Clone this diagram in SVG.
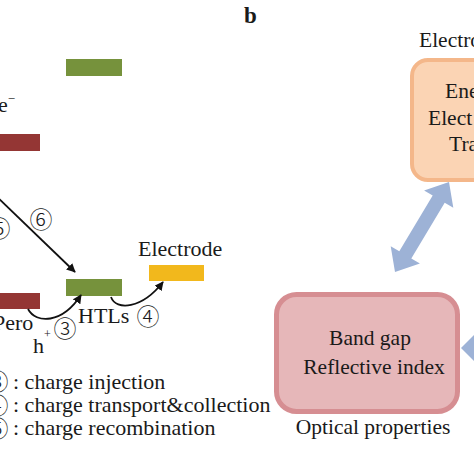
<svg xmlns="http://www.w3.org/2000/svg" width="474" height="474" viewBox="0 0 474 474">
<style>
text{font-family:"Liberation Serif","Times New Roman",serif;fill:#1a1a1a}
.t{font-size:22px}
.r{font-size:21.5px}
.c{font-family:"Noto Sans CJK SC","Liberation Serif",serif;font-size:23px;font-weight:300}
.ln{fill:none;stroke:#111;stroke-width:1.8}
.green{fill:#76923c}
.red{fill:#943634}
.blue{fill:#9db2d6}
</style>
<defs>
<marker id="ah" viewBox="0 0 10 10" refX="9" refY="5" markerWidth="5" markerHeight="5" orient="auto" markerUnits="strokeWidth">
<path d="M0,0 L10,5 L0,10 z" fill="#111"/>
</marker>
</defs>
<rect width="474" height="474" fill="#fff"/>

<g id="level-top-green"><rect class="green" x="66" y="59" width="56" height="17"/></g>
<g id="electron-label"><text class="t" x="-2" y="112">e<tspan font-size="13" dy="-9">−</tspan></text></g>
<g id="level-top-red"><rect class="red" x="0" y="134" width="40" height="17"/></g>
<g id="htl-bar"><rect class="green" x="66" y="279" width="56" height="17"/><text class="t" x="78" y="323">HTLs</text></g>
<g id="electrode-bar"><rect x="149" y="265" width="55" height="16" fill="#f2b81c"/><text class="t" x="138" y="256">Electrode</text></g>
<g id="pero-bar"><rect class="red" x="0" y="293" width="40" height="16"/><text class="t" x="-7" y="330">Pero</text></g>
<g id="hole-label"><text class="t" x="33" y="353">h<tspan font-size="12" dy="-15">+</tspan></text></g>

<g id="connectors">
<path class="ln" d="M-6,194 L75,272" marker-end="url(#ah)"/>
<path class="ln" d="M28,309 C36,324 62,324 81,295" marker-end="url(#ah)"/>
<path class="ln" d="M111,297 C116,311 142,309 163,282" marker-end="url(#ah)"/>
<polygon class="blue" points="449,182 453.3,207.8 444.7,202.7 411.3,258.5 419.9,263.6 395,272 390.7,246.2 399.3,251.3 432.7,195.5 424.1,190.4"/>
<polygon class="blue" points="461,348 476,333 476,363"/>
</g>

<g id="step-labels">
<text class="c" x="41" y="228" text-anchor="middle">⑥</text>
<text class="c" x="-1" y="237" text-anchor="middle">⑤</text>
<text class="c" x="65" y="337" text-anchor="middle">③</text>
<text class="c" x="148" y="325" text-anchor="middle">④</text>
</g>

<g id="legend">
<text class="c" x="-3" y="390" text-anchor="middle">③</text>
<text class="t" x="13" y="389">: charge injection</text>
<text class="c" x="-3" y="414" text-anchor="middle">④</text>
<text class="t" x="13" y="412">: charge transport&amp;collection</text>
<text class="c" x="-3" y="437" text-anchor="middle">⑤</text>
<text class="t" x="13" y="435">: charge recombination</text>
</g>

<g id="panel-b"><text x="244" y="23" font-size="23" font-weight="bold">b</text></g>

<g id="electrical-box">
<text class="r" x="419" y="47">Electro</text>
<rect x="412" y="60" width="150" height="120" rx="16" fill="#fbd4b4" stroke="#f4b78a" stroke-width="4"/>
<text class="r" x="445" y="98">Ene</text>
<text class="r" x="428" y="125">Elect</text>
<text class="r" x="449" y="151">Tra</text>
</g>

<g id="optical-box">
<rect x="276.5" y="294.5" width="181" height="117" rx="20" fill="#e6b7b9" stroke="#d68e92" stroke-width="5"/>
<text class="r" x="370" y="345" text-anchor="middle">Band gap</text>
<text class="r" x="374" y="374" text-anchor="middle">Reflective index</text>
<text class="r" x="373" y="434" text-anchor="middle">Optical properties</text>
</g>
</svg>
